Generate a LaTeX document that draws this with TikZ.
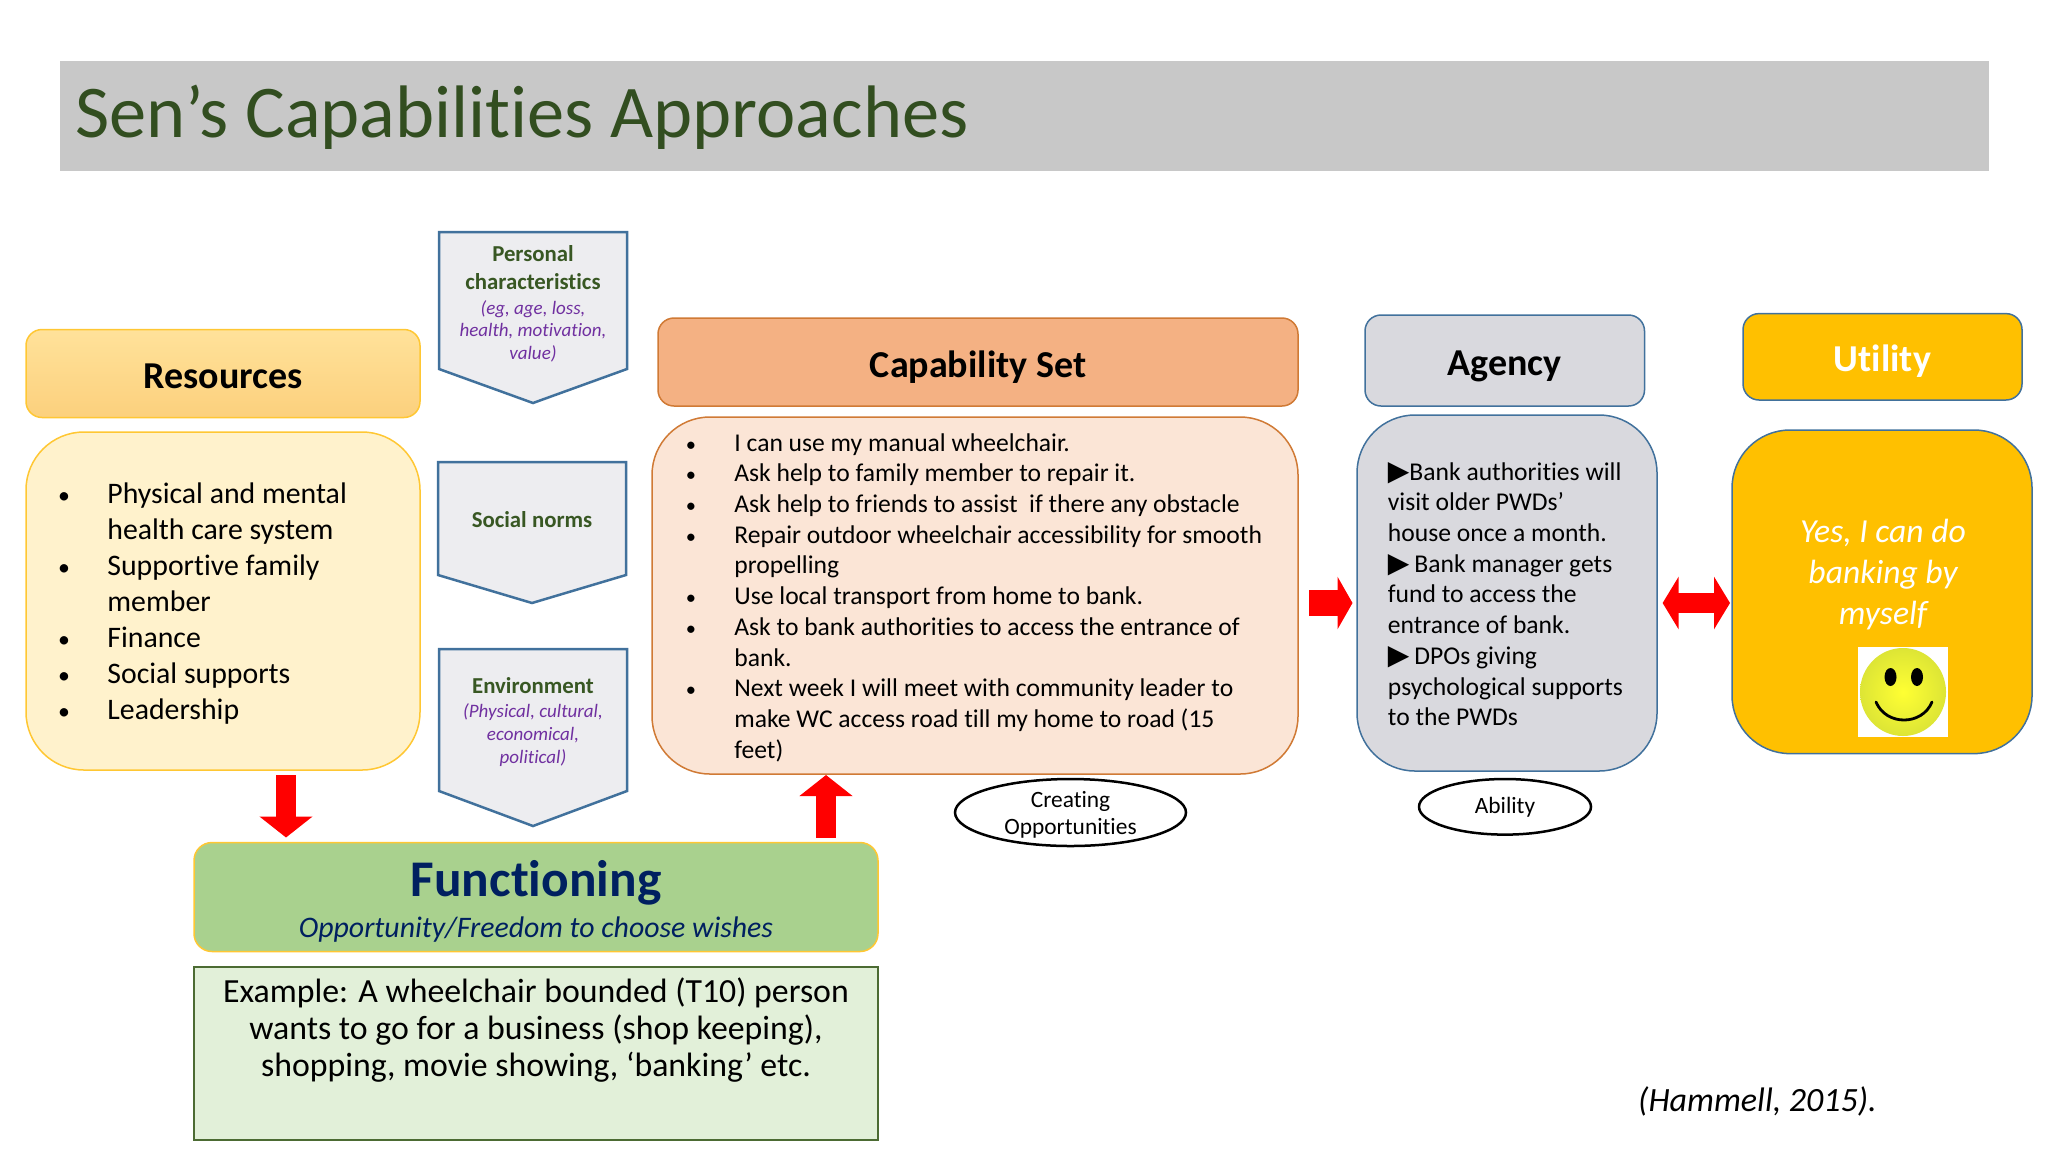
\documentclass[tikz,border=0pt]{standalone}
\usepackage{fontspec}
\setmainfont[Ligatures=NoCommon]{Carlito}
\newfontfamily\symfont{DejaVu Sans}
\usetikzlibrary{arrows.meta,shapes.geometric}
\definecolor{resline}{HTML}{FFC733}
\definecolor{restop}{HTML}{FFE29A}
\definecolor{resbottom}{HTML}{FCD07D}
\definecolor{resbox}{HTML}{FFF2CC}
\definecolor{capline}{HTML}{D07A35}
\definecolor{caphead}{HTML}{F4B183}
\definecolor{capbox}{HTML}{FBE5D6}
\definecolor{agline}{HTML}{41719C}
\definecolor{agfill}{HTML}{D9D9DE}
\definecolor{utfill}{HTML}{FFC000}
\definecolor{funcfill}{HTML}{A9D18E}
\definecolor{exfill}{HTML}{E2F0D9}
\definecolor{exline}{HTML}{4C6B33}
\definecolor{navy}{HTML}{002060}
\definecolor{penfill}{HTML}{EDEDF0}
\definecolor{pengreen}{HTML}{385723}
\definecolor{penpurple}{HTML}{7030A0}
\definecolor{facein}{HTML}{FFFF33}
\definecolor{faceout}{HTML}{DDE535}
\newcommand{\fsize}[2]{\fontsize{#1pt}{#2pt}\selectfont}
\newcommand{\blt}[1]{\makebox[#1][l]{\scalebox{0.8}{\textbullet}}}
\newcommand{\tri}{\smash{{\symfont\fontsize{14pt}{14pt}\selectfont ▶}}}
\newcommand{\penitalic}[1]{{\fsize{9.5}{11.4}\mdseries\itshape\textcolor{penpurple}{#1}}}
\tikzset{
  headbox/.style={draw, line width=0.75pt, rounded corners=8pt, minimum height=44pt, outer sep=0pt, text height=15pt, text depth=0pt, font=\fsize{19}{22}\bfseries},
  bigbox/.style={draw, line width=0.75pt, rounded corners=29pt, outer sep=0pt},
  bodytext/.style={anchor=north west, align=left, inner sep=0pt, font=\fsize{12.8}{15.35}},
  penta/.style={draw=agline, fill=penfill, line width=1.25pt},
  pentext/.style={anchor=north, align=center, inner sep=0pt, font=\fsize{11.4}{13.7}\bfseries, text=pengreen},
  redarrow/.style={draw=red, line width=10pt, -{Triangle[length=10.5pt,width=26pt]}},
  oval/.style={draw, ellipse, fill=white, line width=1.25pt, inner sep=0pt, outer sep=0pt},
  ovaltext/.style={align=center, inner sep=0pt, font=\fsize{11.7}{13.6}},
}
\begin{document}
\begin{tikzpicture}[x=0.5pt,y=-0.5pt]
\useasboundingbox (0,0) rectangle (2048,1152);
\node[fill=black!21.5, minimum width=964.5pt, minimum height=55pt, inner sep=0pt] (band) at (1024.5,116) {};
\node[anchor=west, inner sep=0pt, text=pengreen!90!black, font=\fsize{37.2}{42}] (title) at (75,117) {Sen’s Capabilities Approaches};

\node[headbox, draw=resline, top color=restop, bottom color=resbottom, minimum width=197pt] (reshead) at (223,373.5) {Resources};
\node[bigbox, draw=resline, fill=resbox, minimum width=197pt, minimum height=169pt] (resmain) at (223,601) {};
\node[bodytext, font=\fsize{14.9}{18}] (restext) at (57.8,482.5) {\blt{24.6pt}Physical and mental\\
\hspace*{24.6pt}health care system\\
\blt{24.6pt}Supportive family\\
\hspace*{24.6pt}member\\
\blt{24.6pt}Finance\\
\blt{24.6pt}Social supports\\
\blt{24.6pt}Leadership};

\draw[penta] (439,232) -- (627,232) -- (627,369) -- (533,403) -- (439,369) -- cycle;
\node[pentext] (pentop) at (533,245.5) {Personal\\characteristics\\[-1.3pt]\penitalic{(eg, age, loss,}\\[-2.3pt]\penitalic{health, motivation,}\\[-2.3pt]\penitalic{value)}};
\draw[penta] (438,462) -- (626,462) -- (626,575) -- (532,603) -- (438,575) -- cycle;
\node[pentext, anchor=center] (penmid) at (532,520) {Social norms};
\draw[penta] (439,649) -- (627,649) -- (627,791) -- (533,826) -- (439,791) -- cycle;
\node[pentext] (penlow) at (533,677) {Environment\\[-1.5pt]\penitalic{(Physical, cultural,}\\[-2.2pt]\penitalic{economical,}\\[-2.2pt]\penitalic{political)}};

\node[headbox, draw=capline, fill=caphead, minimum width=320pt] (caphead) at (978,362) {Capability Set};
\node[bigbox, draw=capline, fill=capbox, minimum width=323pt, minimum height=178.5pt] (capmain) at (975,595.5) {};
\node[bodytext] (captext) at (685.5,433) {\blt{24.25pt}I can use my manual wheelchair.\\
\blt{24.25pt}Ask help to family member to repair it.\\
\blt{24.25pt}Ask help to friends to assist\ \ if there any obstacle\\
\blt{24.25pt}Repair outdoor wheelchair accessibility for smooth\\
\hspace*{24.25pt}propelling\\
\blt{24.25pt}Use local transport from home to bank.\\
\blt{24.25pt}Ask to bank authorities to access the entrance of\\
\hspace*{24.25pt}bank.\\
\blt{24.25pt}Next week I will meet with community leader to\\
\hspace*{24.25pt}make WC access road till my home to road (15\\
\hspace*{24.25pt}feet)};

\node[headbox, draw=agline, fill=agfill, minimum width=139.75pt, minimum height=45.5pt] (aghead) at (1504.75,360.5) {Agency};
\node[bigbox, draw=agline, fill=agfill, minimum width=150pt, minimum height=178pt] (agmain) at (1507,593) {};
\node[bodytext] (agtext) at (1387.5,462) {\tri Bank authorities will\\
visit older PWDs’\\
house once a month.\\
\tri\hspace{2.5pt}Bank manager gets\\
fund to access the\\
entrance of bank.\\
\tri\hspace{2.5pt}DPOs giving\\
psychological supports\\
to the PWDs};

\node[headbox, draw=agline, fill=utfill, text=white, minimum width=139.5pt, minimum height=43.2pt] (uthead) at (1882.5,356.8) {Utility};
\node[bigbox, draw=agline, fill=utfill, minimum width=150pt, minimum height=161.8pt] (utmain) at (1882,591.8) {};
\node[align=center, inner sep=0pt, text=white, font=\fsize{16.8}{20.5}\itshape] (uttext) at (1883,575) {Yes, I can do\\banking by\\myself};
\fill[white] (1858,647) rectangle (1948,737);
\shade[inner color=facein, outer color=faceout] (1903,692) circle [x radius=43, y radius=44];
\fill[black] (1890.5,677) circle [x radius=6, y radius=9];
\fill[black] (1917,677) circle [x radius=6, y radius=9];
\draw[black, line width=1.4pt, line cap=round] (1876,702) .. controls (1886,726) and (1922,726) .. (1932,702);

\node[headbox, draw=resline, fill=funcfill, minimum width=342pt, minimum height=54.5pt, rounded corners=9pt] (func) at (536,897) {};
\node[inner sep=0pt, text=navy, font=\fsize{25.7}{30}\bfseries] (functitle) at (536,883) {Functioning};
\node[inner sep=0pt, text=navy, font=\fsize{14.9}{18}\itshape] (funcsub) at (536,930) {Opportunity/Freedom to choose wishes};
\node[draw=exline, fill=exfill, line width=1pt, minimum width=342pt, minimum height=86.5pt, outer sep=0pt] (exbox) at (536,1053.5) {};
\node[anchor=north, align=center, inner sep=0pt, font=\fsize{16.9}{18.5}] (extext) at (536,977) {Example: A wheelchair bounded (T10) person\\wants to go for a business (shop keeping),\\shopping, movie showing, ‘banking’ etc.};

\node[oval, minimum width=115.5pt, minimum height=33.5pt] (creating) at (1070.5,812.5) {};
\node[ovaltext] (creatingtext) at (1070.5,815) {Creating\\Opportunities};
\node[oval, minimum width=86pt, minimum height=27.8pt] (ability) at (1505,806.8) {};
\node[ovaltext] (abilitytext) at (1505,807.5) {Ability};
\node[inner sep=0pt, font=\fsize{17}{20}\itshape] (cite) at (1757.5,1101) {(Hammell, 2015).};

\draw[redarrow, shorten <=2.5pt, shorten >=2.5pt] ([xshift=31.5pt]resmain.south) -- ([xshift=-125pt]func.north);
\draw[redarrow, shorten <=2.5pt, shorten >=0.5pt] ([xshift=145pt]func.north) -- ([xshift=-74.5pt]capmain.south);
\draw[redarrow, line width=13pt, -{Triangle[length=7.5pt,width=26pt]}, shorten <=5.5pt, shorten >=2.25pt] ([yshift=-3.75pt]capmain.east) -- ([yshift=-5pt]agmain.west);
\draw[redarrow, {Triangle[length=8pt,width=26pt]}-{Triangle[length=8pt,width=26pt]}, shorten <=2.8pt, shorten >=1pt] ([yshift=-5pt]agmain.east) -- ([yshift=-5.6pt]utmain.west);
\end{tikzpicture}
\end{document}
